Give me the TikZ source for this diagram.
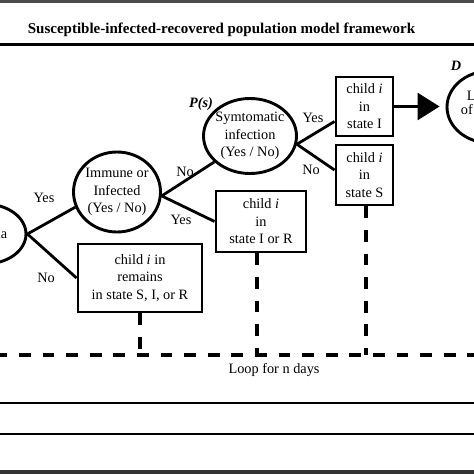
\documentclass[tikz,border=0pt]{standalone}
\usepackage{fontspec}
\setmainfont{Liberation Serif}
\usetikzlibrary{shapes.geometric,arrows.meta,calc}
\newcommand\fsbody{\fontsize{14.3}{17.5}\selectfont}
\newcommand\fstitle{\fontsize{15}{18}\selectfont\bfseries}
\begin{document}
\begin{tikzpicture}[x=1pt,y=-1pt,
  ell/.style={ellipse,draw,line width=2.9pt,inner sep=0pt},
  box/.style={rectangle,draw,line width=2.9pt,inner sep=0pt,align=center,font=\fsbody},
  txt/.style={align=center,font=\fsbody,inner sep=0pt},
  conn/.style={line width=2.8pt},
  loopline/.style={line width=3.6pt,dash pattern=on 11.8pt off 11.8pt},
  rulebar/.style={line width=3pt}]
\useasboundingbox (0,0) rectangle (474,474);
\clip (0,0) rectangle (474,474);
\fill[white] (0,0) rectangle (474,474);

% frame rules
\draw[rulebar, black!70] (0,1.5) -- (474,1.5);
\node[txt, font=\fstitle] (title) at (221.5,30) {Susceptible-infected-recovered population model framework};
\draw[rulebar] (0,44.5) -- (474,44.5);
\draw[line width=2.6pt] (0,403) -- (474,403);
\draw[line width=2.6pt] (0,434) -- (474,434);
\fill[black!80] (0,470) rectangle (474,474);

% decision ellipses
\node[ell, minimum width=82pt, minimum height=60pt] (mal) at (-15,234) {};
\node[txt] at (mal) {Malaria};
\node[ell, minimum width=87pt, minimum height=80pt] (imm) at (117,192) {};
\node[txt] at (imm) {Immune or\\Infected\\(Yes / No)};
\node[ell, minimum width=93pt, minimum height=75pt] (sym) at (250,136) {};
\node[txt] at (sym) {Symtomatic\\infection\\(Yes / No)};
\node[ell, minimum width=86pt, minimum height=72pt] (dur) at (490,107) {};
\node[txt, font=\fontsize{14.3}{14}\selectfont] at (487,103) {Length\\of illness};

% state boxes
\node[box, minimum width=57pt, minimum height=59pt] (boxI) at (364.5,106.5) {child \textit{i}\\in\\state I};
\node[box, minimum width=57pt, minimum height=60pt] (boxS) at (364.5,175) {child \textit{i}\\in\\state S};
\node[box, minimum width=90pt, minimum height=61pt] (boxIR) at (261,221.5) {child \textit{i}\\in\\state I or R};
\node[box, minimum width=124pt, minimum height=68pt] (boxRem) at (140,278) {child \textit{i} in\\remains\\in state S, I, or R};

% connectors
\draw[conn] (mal.east) -- (imm.200);
\draw[conn] (mal.east) -- (boxRem.west);
\draw[conn] (imm.-5) -- (sym.216);
\draw[conn] (imm.-5) -- (boxIR.west);
\draw[conn] (sym.-10) -- ([yshift=16pt]boxI.south west);
\draw[conn] (sym.-10) -- ([yshift=5pt]boxS.west);
\draw[conn,-{Triangle[length=22pt,width=27pt]}, shorten >=6pt] (boxI.east) -- (boxI.east -| dur.west);

% labels
\node[txt] (l1) at (44,198) {Yes};
\node[txt] (l2) at (46,278) {No};
\node[txt] (l3) at (185,172) {No};
\node[txt] (l4) at (181,220) {Yes};
\node[txt] (l5) at (313,118) {Yes};
\node[txt] (l6) at (311,170) {No};
\node[txt, font=\fsbody\bfseries\itshape] (ps) at (201,104) {P(s)};
\node[txt, font=\fsbody\bfseries\itshape] (dlab) at (456,66) {D};

% loop
\coordinate (loopL) at (-4.7,355);
\coordinate (loopR) at (480,355);
\draw[loopline] (loopL) -- (loopR);
\draw[loopline] (boxRem.south) -- (boxRem.south |- loopL);
\draw[loopline] ([xshift=-4pt]boxIR.south) -- ([xshift=-4pt]boxIR.south |- loopL);
\draw[loopline] ([xshift=1.5pt]boxS.south) -- ([xshift=1.5pt]boxS.south |- loopL);
\node[txt] (looptxt) at (274,370) {Loop for n days};
\end{tikzpicture}
\end{document}
